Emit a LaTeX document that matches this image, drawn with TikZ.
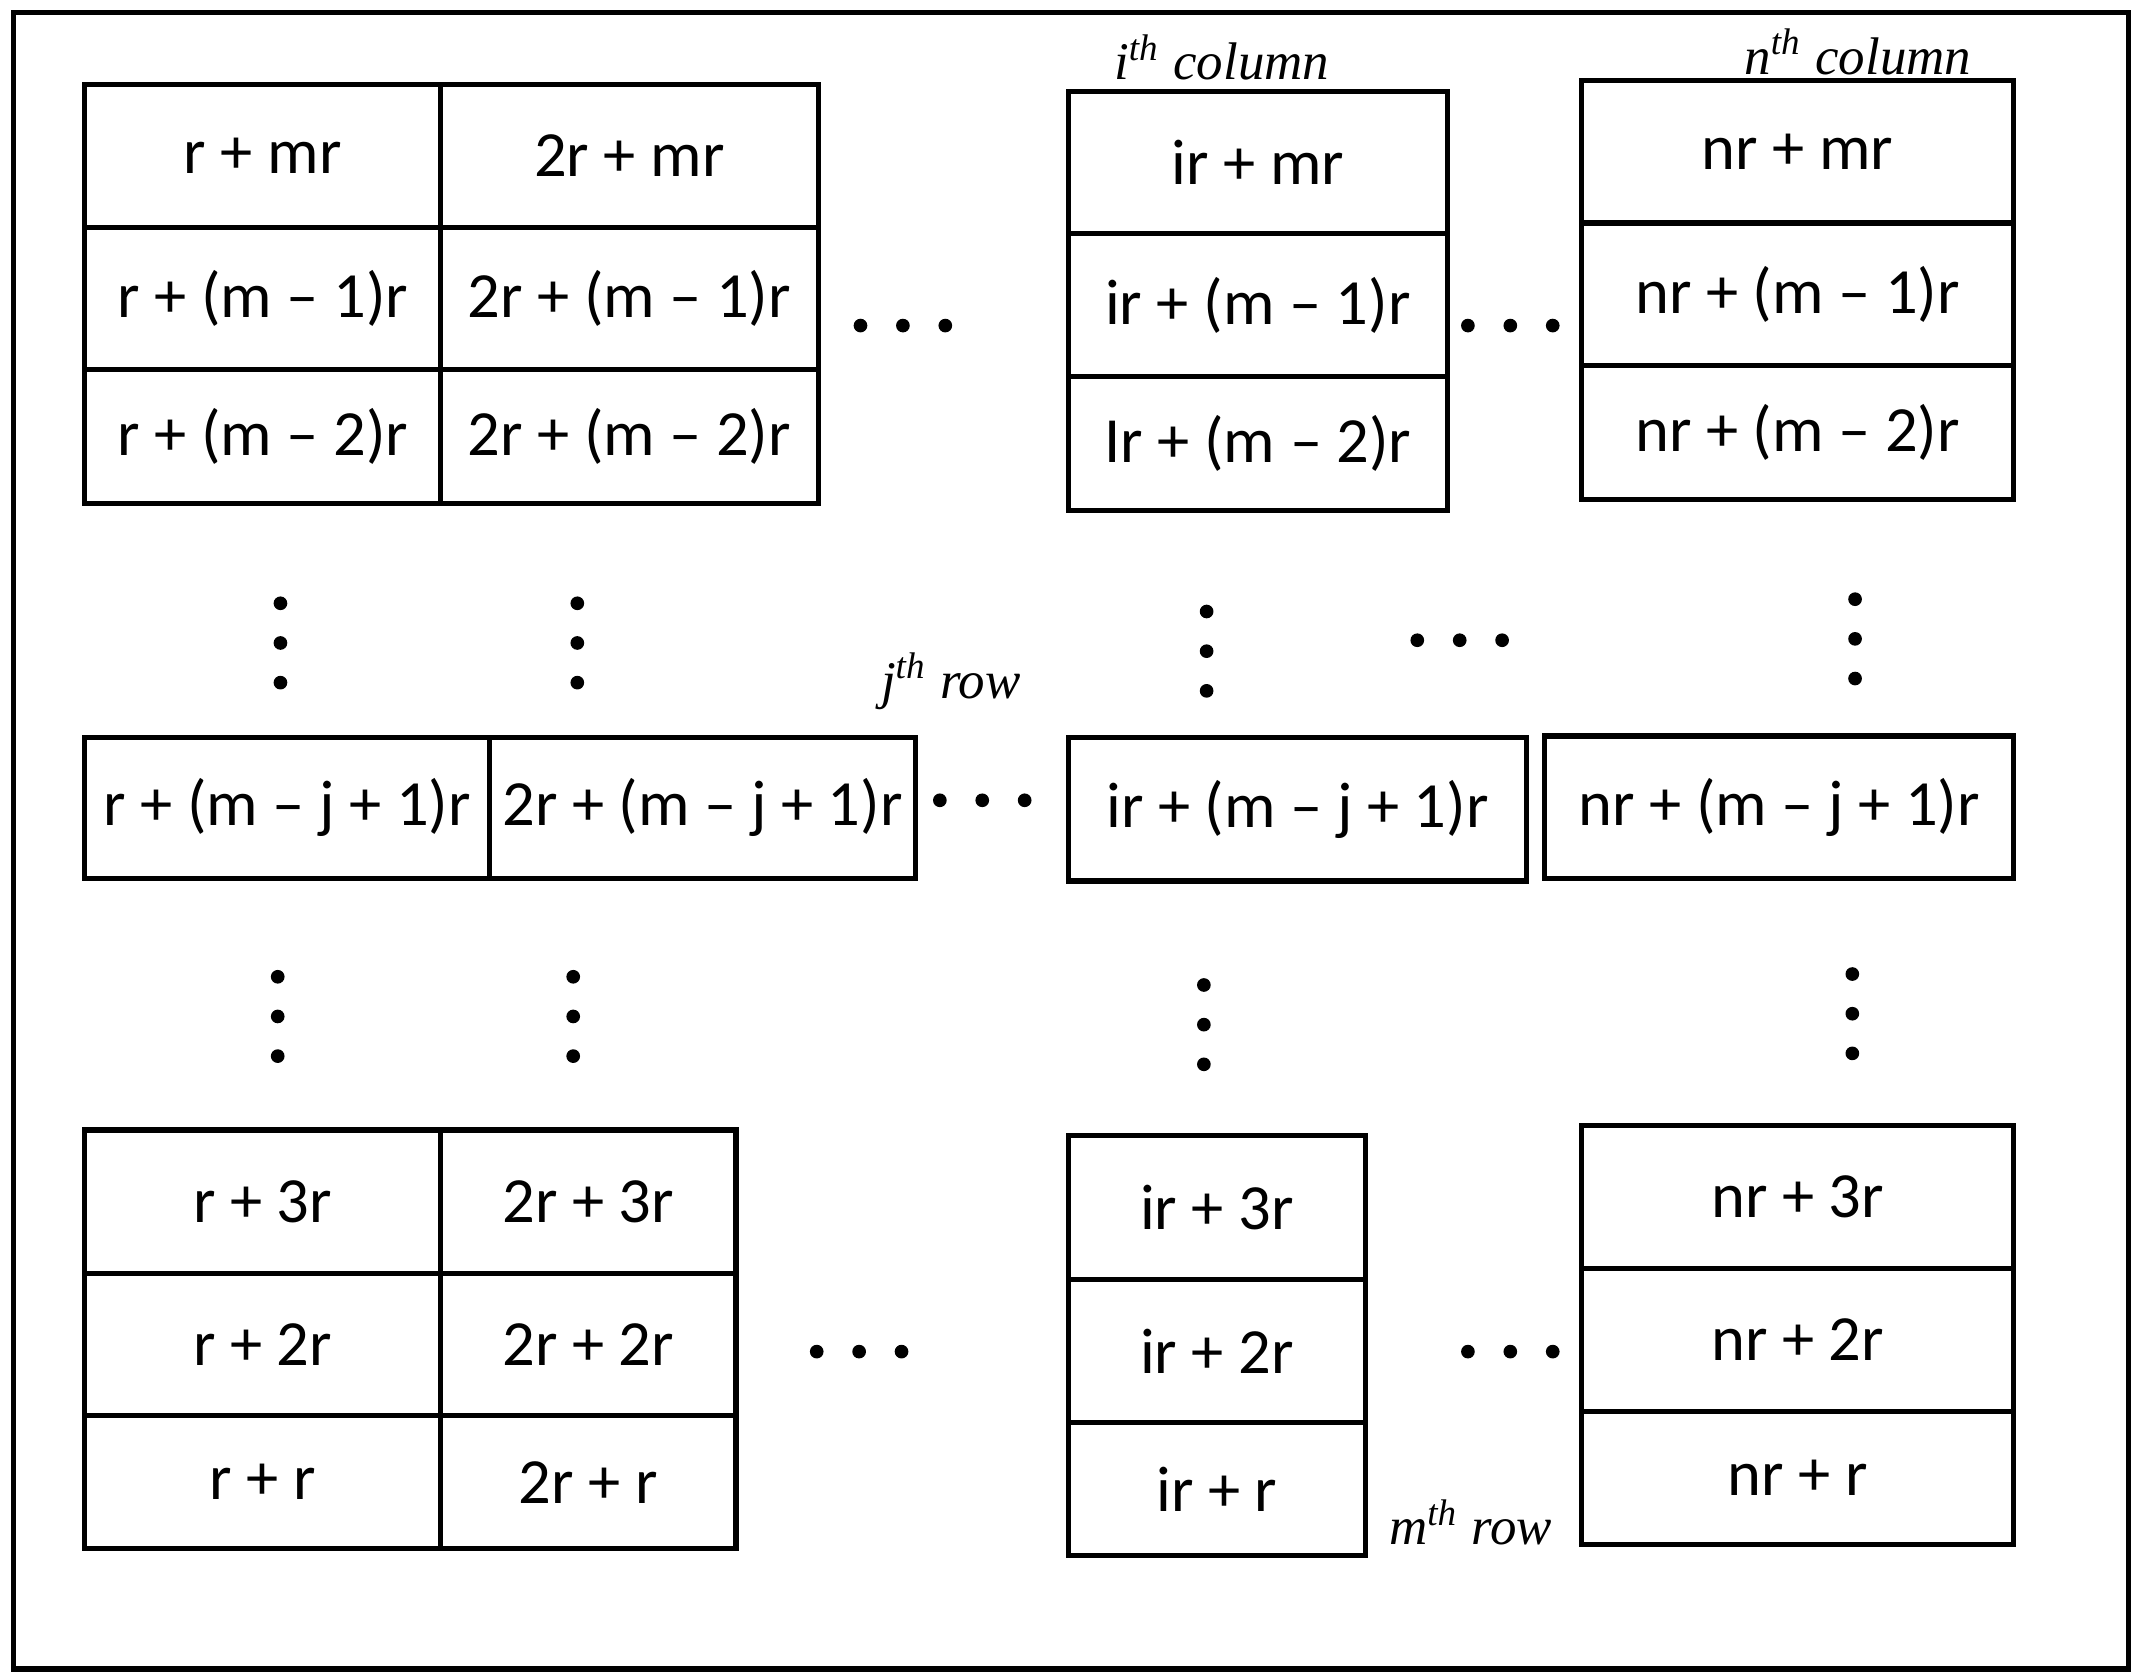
\documentclass[tikz,border=0pt]{standalone}
\usepackage{fontspec}
\setmainfont{Carlito}
\newfontfamily\lab{Liberation Serif}
\newcommand\cellbox[6]{\draw[cellline] (#2,#3) rectangle node[celltext,name=#1]{#6} (#4,#5);}
\begin{document}
\begin{tikzpicture}[x=0.01cm,y=-0.01cm,
  cellline/.style={line width=1.05pt},
  celltext/.style={font=\fontsize{13.4}{15}\selectfont,inner sep=0pt},
  labtext/.style={font=\lab\itshape\fontsize{11}{12}\selectfont,inner sep=0pt},
  dotc/.style={fill=black,draw=none,circle,inner sep=0pt,minimum size=0.1cm}]
\useasboundingbox (0,0) rectangle (1565,1228);
\draw[cellline] (10,9) rectangle (1556,1220);
% top A
\cellbox{a11}{62}{62}{322}{166}{r + mr}
\cellbox{a12}{322}{62}{598}{166}{2r + mr}
\cellbox{a21}{62}{166}{322}{270}{r + (m -- 1)r}
\cellbox{a22}{322}{166}{598}{270}{2r + (m -- 1)r}
\cellbox{a31}{62}{270}{322}{368}{r + (m -- 2)r}
\cellbox{a32}{322}{270}{598}{368}{2r + (m -- 2)r}
% top i
\cellbox{i1}{781}{67}{1058}{171}{ir + mr}
\cellbox{i2}{781}{171}{1058}{275}{ir + (m -- 1)r}
\cellbox{i3}{781}{275}{1058}{373}{Ir + (m -- 2)r}
% top n
\cellbox{n1}{1156}{59}{1472}{163}{nr + mr}
\cellbox{n2}{1156}{163}{1472}{267}{nr + (m -- 1)r}
\cellbox{n3}{1156}{267}{1472}{365}{nr + (m -- 2)r}
% row j
\cellbox{j1}{62}{539}{358}{642}{r + (m -- j + 1)r}
\cellbox{j2}{358}{539}{669}{642}{2r + (m -- j + 1)r}
\cellbox{ji}{781}{539}{1116}{644}{ir + (m -- j + 1)r}
\cellbox{jn}{1129}{538}{1472}{642}{nr + (m -- j + 1)r}
% bottom A
\cellbox{b11}{62}{826}{322}{931}{r + 3r}
\cellbox{b12}{322}{826}{538}{931}{2r + 3r}
\cellbox{b21}{62}{931}{322}{1035}{r + 2r}
\cellbox{b22}{322}{931}{538}{1035}{2r + 2r}
\cellbox{b31}{62}{1035}{322}{1132}{r + r}
\cellbox{b32}{322}{1035}{538}{1132}{2r + r}
% bottom i
\cellbox{bi1}{781}{830}{998}{935}{ir + 3r}
\cellbox{bi2}{781}{935}{998}{1040}{ir + 2r}
\cellbox{bi3}{781}{1040}{998}{1137}{ir + r}
% bottom n
\cellbox{bn1}{1156}{823}{1472}{927}{nr + 3r}
\cellbox{bn2}{1156}{927}{1472}{1032}{nr + 2r}
\cellbox{bn3}{1156}{1032}{1472}{1129}{nr + r}
% horizontal dots
\foreach \n/\x/\y in {h1/660/238,h2/1104/238,h3/1067/468,h4/718/585,h5/628/988,h6/1104/988}{
  \foreach \k in {-1,0,1}{\node[dotc] (\n\k) at (\x+\k*31,\y) {};}}
% vertical dots
\foreach \n/\x/\y in {v1/205/470,v2/422/470,v3/882/476,v4/1356/467,v5/203/743,v6/419/743,v7/880/749,v8/1354/741}{
  \foreach \k in {-1,0,1}{\node[dotc] (\n\k) at (\x,\y+\k*29) {};}}
% labels
\node[labtext] (li) at (893,42) {i\textsuperscript{th} column};
\node[labtext] (ln) at (1358,38) {n\textsuperscript{th} column};
\node[labtext] (lj) at (695,498) {j\textsuperscript{th} row};
\node[labtext] (lm) at (1075,1113) {m\textsuperscript{th} row};
\end{tikzpicture}
\end{document}
